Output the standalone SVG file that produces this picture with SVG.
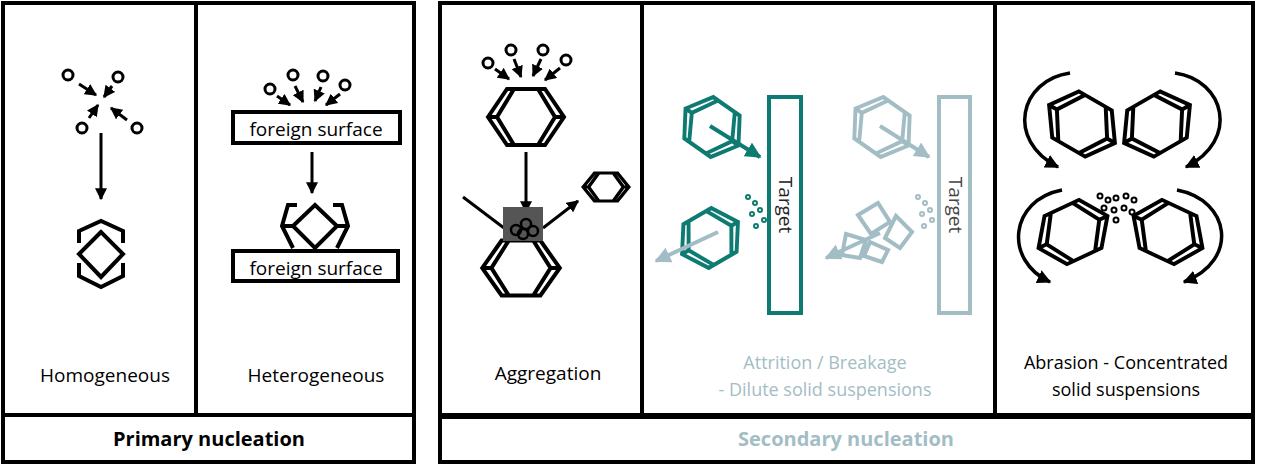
<svg xmlns="http://www.w3.org/2000/svg" width="1273" height="465" viewBox="0 0 1273 465">
<style>
.box{fill:none;stroke:#000;stroke-width:4}
.k{fill:none;stroke:#000;stroke-width:4;stroke-linejoin:miter}
.c{fill:#fff;stroke:#000;stroke-width:3}
.t{font-family:"Open Sans",sans-serif;font-size:19px;text-anchor:middle}
.s{font-size:18px}
.b{font-weight:bold;font-size:20px}
</style>
<defs>
<marker id="ah" viewBox="0 0 10 10" refX="9" refY="5" markerWidth="4" markerHeight="4" orient="auto"><path d="M0,0L10,5L0,10z" fill="#000"/></marker>
<marker id="aht" viewBox="0 0 10 10" refX="9" refY="5" markerWidth="4" markerHeight="4" orient="auto"><path d="M0,0L10,5L0,10z" fill="#0e7b73"/></marker>
<marker id="ahl" viewBox="0 0 10 10" refX="9" refY="5" markerWidth="4" markerHeight="4" orient="auto"><path d="M0,0L10,5L0,10z" fill="#a3bdc5"/></marker>
<g id="hex"><path d="M-38,0L-19,-28L19,-28L38,0L19,28L-19,28Z M-12,-28L-29,0L-12,28 M12,-28L29,0L12,28 M-38,0H-29 M38,0H29"/></g>
</defs>
<g id="frames">
<rect class="box" x="3" y="3" width="411" height="412"/>
<line class="box" x1="196" y1="3" x2="196" y2="415"/>
<rect class="box" x="3" y="415" width="411" height="47"/>
<rect class="box" x="440" y="3" width="813" height="412"/>
<line class="box" x1="642" y1="3" x2="642" y2="415"/>
<line class="box" x1="995" y1="3" x2="995" y2="415"/>
<rect class="box" x="440" y="417" width="813" height="45"/>
</g>
<g id="homogeneous">
<circle class="c" cx="68" cy="75" r="5"/><circle class="c" cx="118" cy="77" r="5"/><circle class="c" cx="82" cy="128" r="5"/><circle class="c" cx="137" cy="128" r="5"/>
<g stroke="#000" stroke-width="3" marker-end="url(#ah)"><line x1="79" y1="84" x2="96" y2="95"/><line x1="112" y1="86" x2="104" y2="97"/><line x1="89" y1="118" x2="98" y2="105"/><line x1="127" y1="120" x2="111" y2="108"/></g>
<line x1="101" y1="133" x2="101" y2="199" stroke="#000" stroke-width="3" marker-end="url(#ah)"/>
<path class="k" d="M79,243V231L101,221L123,231V243 M79,263V276L101,287L123,276V263 M101,232L79,254L101,277L123,254Z"/>
</g>
<g id="heterogeneous">
<circle class="c" cx="270" cy="89" r="5"/><circle class="c" cx="293" cy="75" r="5"/><circle class="c" cx="323" cy="76" r="5"/><circle class="c" cx="345" cy="85" r="5"/>
<g stroke="#000" stroke-width="3" marker-end="url(#ah)"><line x1="277" y1="96" x2="290" y2="105"/><line x1="295" y1="86" x2="303" y2="102"/><line x1="321" y1="87" x2="315" y2="101"/><line x1="340" y1="94" x2="326" y2="105"/></g>
<rect class="k" x="233" y="112" width="167" height="31" stroke-width="3"/>
<text class="t" x="316" y="136" style="fill:#000">foreign surface</text>
<line x1="312" y1="152" x2="312" y2="193" stroke="#000" stroke-width="3" marker-end="url(#ah)"/>
<path class="k" d="M293,226L315,205L337,226L315,248Z M297,205H288L282,226L293,248 M333,205H342L348,226L337,248 M282,226H293 M337,226H348"/>
<rect class="k" x="233" y="251" width="165" height="30" stroke-width="3"/>
<text class="t" x="316" y="275" style="fill:#000">foreign surface</text>
</g>
<g id="aggregation">
<circle class="c" cx="488" cy="63" r="5"/><circle class="c" cx="511" cy="50" r="5"/><circle class="c" cx="543" cy="50" r="5"/><circle class="c" cx="566" cy="60" r="5"/>
<g stroke="#000" stroke-width="3" marker-end="url(#ah)"><line x1="495" y1="69" x2="509" y2="79"/><line x1="514" y1="59" x2="521" y2="77"/><line x1="541" y1="59" x2="533" y2="76"/><line x1="560" y1="68" x2="545" y2="80"/></g>
<use href="#hex" transform="translate(526,117)" fill="none" stroke="#000" stroke-width="4"/>
<line x1="526" y1="152" x2="526" y2="212" stroke="#000" stroke-width="3" marker-end="url(#ah)"/>
<line x1="463" y1="197" x2="504" y2="228" stroke="#000" stroke-width="3"/>
<line x1="543" y1="228" x2="578" y2="201" stroke="#000" stroke-width="3" marker-end="url(#ah)"/>
<use href="#hex" transform="translate(606,187) scale(0.6,0.5)" fill="none" stroke="#000" stroke-width="6"/>
<use href="#hex" transform="translate(521,268) scale(1.02,0.98)" fill="none" stroke="#000" stroke-width="4"/>
<rect x="503" y="207" width="40" height="34" fill="#555"/>
<g fill="none" stroke="#000" stroke-width="2.5"><circle cx="516" cy="230" r="5"/><circle cx="526" cy="224" r="5"/><circle cx="533" cy="231" r="5"/><circle cx="523" cy="234" r="5"/></g>
</g>
<g id="attrition">
<use href="#hex" transform="translate(712,127) rotate(35) scale(0.85,0.9)" fill="none" stroke="#0e7b73" stroke-width="4.5"/>
<line x1="710" y1="126" x2="760" y2="157" stroke="#0e7b73" stroke-width="4" marker-end="url(#aht)"/>
<use href="#hex" transform="translate(710,238) rotate(-30) scale(0.85,0.9)" fill="none" stroke="#0e7b73" stroke-width="4.5"/>
<line x1="718" y1="232" x2="656" y2="261" stroke="#a3bdc5" stroke-width="4" marker-end="url(#ahl)"/>
<g fill="none" stroke="#0e7b73" stroke-width="2"><circle cx="748" cy="197" r="2"/><circle cx="755" cy="203" r="2"/><circle cx="760" cy="210" r="2"/><circle cx="752" cy="214" r="2"/><circle cx="764" cy="220" r="2"/><circle cx="756" cy="226" r="2"/></g>
<rect x="769" y="97" width="32" height="216" fill="none" stroke="#0e7b73" stroke-width="4"/>
<text class="t" x="0" y="0" transform="translate(779,205) rotate(90)" style="fill:#222">Target</text>
<use href="#hex" transform="translate(882,127) rotate(35) scale(0.85,0.9)" fill="none" stroke="#a3bdc5" stroke-width="4.5"/>
<line x1="880" y1="126" x2="929" y2="157" stroke="#a3bdc5" stroke-width="4" marker-end="url(#ahl)"/>
<path d="M858,215L878,203L890,222L871,234Z M896,216L912,232L900,248L885,238Z M846,234L866,240L860,258L842,255Z M870,242L888,250L882,262L864,256Z" fill="none" stroke="#a3bdc5" stroke-width="4"/>
<line x1="880" y1="233" x2="826" y2="258" stroke="#a3bdc5" stroke-width="4" marker-end="url(#ahl)"/>
<g fill="none" stroke="#a3bdc5" stroke-width="2"><circle cx="918" cy="197" r="2"/><circle cx="925" cy="203" r="2"/><circle cx="930" cy="210" r="2"/><circle cx="922" cy="214" r="2"/><circle cx="932" cy="220" r="2"/><circle cx="924" cy="226" r="2"/></g>
<rect x="939" y="97" width="31" height="216" fill="none" stroke="#a3bdc5" stroke-width="4"/>
<text class="t" x="0" y="0" transform="translate(949,205) rotate(90)" style="fill:#444">Target</text>
</g>
<g id="abrasion">
<use href="#hex" transform="translate(1082,124) rotate(30) scale(1,0.95)" fill="none" stroke="#000" stroke-width="4"/>
<use href="#hex" transform="translate(1157,124) rotate(-30) scale(1,0.95)" fill="none" stroke="#000" stroke-width="4"/>
<use href="#hex" transform="translate(1073,232) rotate(-25) scale(1,0.95)" fill="none" stroke="#000" stroke-width="4"/>
<use href="#hex" transform="translate(1168,232) rotate(25) scale(1,0.95)" fill="none" stroke="#000" stroke-width="4"/>
<g fill="none" stroke="#000" stroke-width="2"><circle cx="1100" cy="196" r="2.5"/><circle cx="1108" cy="200" r="2.5"/><circle cx="1116" cy="198" r="2.5"/><circle cx="1126" cy="196" r="2.5"/><circle cx="1134" cy="200" r="2.5"/><circle cx="1104" cy="208" r="2.5"/><circle cx="1114" cy="210" r="2.5"/><circle cx="1124" cy="208" r="2.5"/><circle cx="1132" cy="212" r="2.5"/><circle cx="1116" cy="220" r="2.5"/></g>
<g fill="none" stroke="#000" stroke-width="3.5">
<path d="M1070,73C1020,80 1005,140 1058,167" marker-end="url(#ah)"/>
<path d="M1175,73C1225,80 1240,140 1186,167" marker-end="url(#ah)"/>
<path d="M1062,190C1010,200 1003,260 1050,282" marker-end="url(#ah)"/>
<path d="M1177,190C1230,200 1240,260 1184,282" marker-end="url(#ah)"/>
</g>
</g>
<g id="labels">
<text class="t" x="105" y="382" style="fill:#000">Homogeneous</text>
<text class="t" x="316" y="382" style="fill:#000">Heterogeneous</text>
<text class="t" x="548" y="380" style="fill:#000">Aggregation</text>
<text class="t s" x="825" y="369" style="fill:#a3bdc5">Attrition / Breakage</text>
<text class="t s" x="825" y="396" style="fill:#a3bdc5">- Dilute solid suspensions</text>
<text class="t s" x="1126" y="369" style="fill:#000">Abrasion - Concentrated</text>
<text class="t s" x="1126" y="396" style="fill:#000">solid suspensions</text>
<text class="t b" x="209" y="446" style="fill:#000">Primary nucleation</text>
<text class="t b" x="846" y="446" style="fill:#a3bdc5">Secondary nucleation</text>
</g>
</svg>
